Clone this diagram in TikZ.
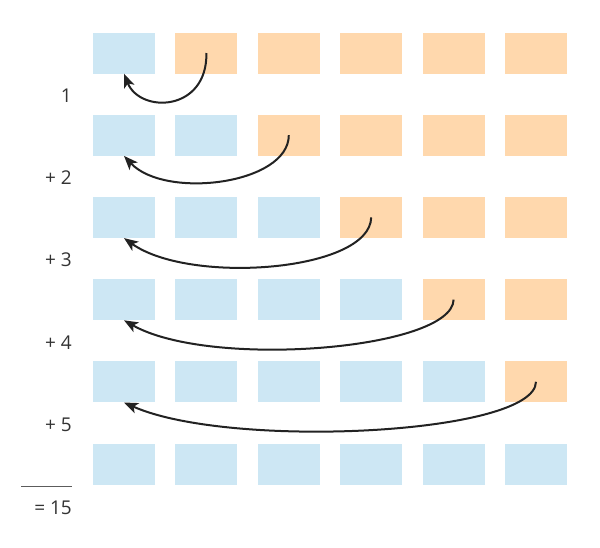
\documentclass[tikz,border=0pt]{standalone}
\usepackage{fontspec}
\setmainfont{Open Sans}
\usetikzlibrary{arrows.meta}
\definecolor{cellblue}{HTML}{CDE7F4}
\definecolor{cellorange}{HTML}{FFD8AD}
\definecolor{ink}{HTML}{222222}
\definecolor{labelgray}{HTML}{333333}
\begin{document}
\begin{tikzpicture}[x=1pt,y=-1pt,
  cell/.style={minimum width=62pt,minimum height=41pt,inner sep=0pt,draw=none},
  bluecell/.style={cell,fill=cellblue},
  orangecell/.style={cell,fill=cellorange},
  sumlabel/.style={anchor=east,inner sep=0pt,text=labelgray,font=\fontsize{19}{21}\selectfont},
  move/.style={draw=ink,line width=2pt,-{Stealth[length=14pt,width=11pt,inset=3.5pt]}}]
\fill[white] (0,0) rectangle (600,547);
\useasboundingbox (0,0) rectangle (600,547);
\foreach \r in {1,...,6}{
  \foreach \c in {1,...,6}{
    \pgfmathtruncatemacro{\isblue}{\c<=\r ? 1 : 0}
    \ifnum\isblue=1
      \node[bluecell] (r\r c\c) at ({124+82.4*(\c-1)},{53+82.2*(\r-1)}) {};
    \else
      \node[orangecell] (r\r c\c) at ({124+82.4*(\c-1)},{53+82.2*(\r-1)}) {};
    \fi
  }
}
\node[sumlabel] (l1) at (72,95.5) {1};
\node[sumlabel] (l2) at (72,178) {+ 2};
\node[sumlabel] (l3) at (72,260) {+ 3};
\node[sumlabel] (l4) at (72,343) {+ 4};
\node[sumlabel] (l5) at (72,425) {+ 5};
\node[sumlabel] (l6) at (72,507.5) {= 15};
\coordinate (barl) at (21,486);
\coordinate (barr) at (72,486);
\draw[labelgray!80,line width=0.9pt] (barl) -- (barr);
\draw[move] (r1c2.center) .. controls +(1,59) and +(16,40) .. (r1c1.south);
\draw[move] (r2c3.center) .. controls +(0,49) and +(41,44) .. (r2c1.south);
\draw[move] (r3c4.center) .. controls +(-1,54) and +(66,47) .. (r3c1.south);
\draw[move] (r4c5.center) .. controls +(-1,50) and +(86,49) .. (r4c1.south);
\draw[move] (r5c6.center) .. controls +(-1,53) and +(106,47) .. (r5c1.south);
\end{tikzpicture}
\end{document}
